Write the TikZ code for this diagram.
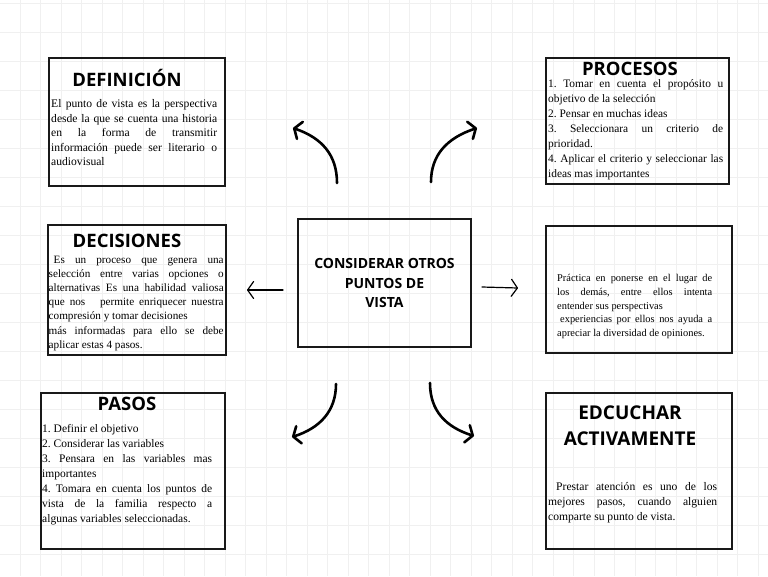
\documentclass[tikz,border=0pt]{standalone}
\usepackage{fontspec}
\setmainfont{Liberation Serif}
\newfontfamily\titlefont{Open Sans}
\usetikzlibrary{arrows.meta}
\setlength\parindent{0pt}
\frenchspacing
\newlength\bw
\newcommand\JL[1]{\makebox[\bw][s]{\spaceskip=0pt\xspaceskip=0pt #1}\\}
\newcommand\FL[1]{#1\\}
\newcommand\BW[1]{\setlength\bw{#1}\spaceskip=0pt\xspaceskip=0pt}
\begin{document}
\begin{tikzpicture}[x=1pt,y=-1pt,
  box/.style={draw=black!90, line width=1.6pt, inner sep=0pt, anchor=north west},
  title/.style={font=\titlefont\bfseries\fontsize{18.5}{22}\selectfont, inner sep=0pt, anchor=base},
  body/.style={anchor=north west, inner sep=0pt, align=left, text width=#1},
  gridline/.style={draw=black!6, line width=0.6pt},
  arr/.style={line width=2.6pt, line cap=round, -{Straight Barb[length=6pt,width=18pt,line width=2.6pt,round]}},
  thinarr/.style={line width=1.2pt, line cap=round, -{Straight Barb[length=6pt,width=17pt,line width=1.2pt,round]}},
]
\useasboundingbox (0,0) rectangle (768,576);
\fill[white] (0,0) rectangle (768,576);
\foreach \i in {0,...,37} \draw[gridline] ({20+\i*20.5},0) -- ({20+\i*20.5},576);
\foreach \j in {0,...,19} \draw[gridline] (0,{3+\j*29}) -- (768,{3+\j*29});

% boxes
\node[box, minimum width=176pt, minimum height=128pt] (defbox) at (48,57) {};
\node[box, minimum width=183pt, minimum height=126pt] (probox) at (545,57) {};
\node[box, minimum width=178pt, minimum height=130pt] (decbox) at (47,224) {};
\node[box, minimum width=186pt, minimum height=127pt] (empbox) at (545,225) {};
\node[box, minimum width=184pt, minimum height=156pt] (pasbox) at (40,392) {};
\node[box, minimum width=186pt, minimum height=156pt] (escbox) at (545,392) {};

% center
\node[draw=black!90, line width=1.6pt, minimum width=173pt, minimum height=128pt, align=center,
  font=\titlefont\bfseries\fontsize{14}{19.3}\selectfont] (main) at (384.5,283)
  {CONSIDERAR OTROS\\PUNTOS DE\\VISTA};

% titles
\node[title] (tdef) at (127,86) {DEFINICIÓN};
\node[title] (tpro) at (630,75) {PROCESOS};
\node[title] (tdec) at (127,247.7) {DECISIONES};
\node[title] (tpas) at (127,410) {PASOS};
\node[title, anchor=center, align=center, font=\titlefont\bfseries\fontsize{19}{26}\selectfont] (tesc) at (630,426) {EDCUCHAR\\ACTIVAMENTE};

% bodies
\node[body=166pt, font=\fontsize{11.6}{14.6}\selectfont] (bdef) at (51,99.3) {\BW{166pt}%
\JL{El punto de vista es la perspectiva}
\JL{desde la que se cuenta una historia}
\JL{en la forma de transmitir}
\JL{información puede ser literario o}
audiovisual};

\node[body=175pt, font=\fontsize{11.4}{15}\selectfont] (bpro) at (548,79) {\BW{175pt}%
\JL{1. Tomar en cuenta el propósito u}
\FL{objetivo de la selección}
\FL{2. Pensar en muchas ideas}
\JL{3. Seleccionara un criterio de}
\FL{prioridad.}
\JL{4. Aplicar el criterio y seleccionar las}
ideas mas importantes};

\node[body=175pt, font=\fontsize{11.2}{14.1}\selectfont] (bdec) at (48.5,256) {\BW{175pt}%
\JL{\hspace*{5pt}Es un proceso que genera una}
\JL{selección entre varias opciones o}
\JL{alternativas Es una habilidad valiosa}
\JL{que nos\ \ \ permite enriquecer nuestra}
\FL{compresión y tomar decisiones}
\JL{más informadas para ello se debe}
aplicar estas 4 pasos.};

\node[body=155pt, font=\fontsize{10.4}{13.6}\selectfont] (bemp) at (557,274.5) {\BW{155pt}%
\JL{Práctica en ponerse en el lugar de}
\JL{los demás, entre ellos intenta}
\FL{entender sus perspectivas}
\JL{\hspace*{3pt}experiencias por ellos nos ayuda a}
apreciar la diversidad de opiniones.};

\node[body=170pt, font=\fontsize{11.5}{15}\selectfont] (bpas) at (42,423.7) {\BW{170pt}%
\FL{1. Definir el objetivo}
\FL{2. Considerar las variables}
\JL{3. Pensara en las variables mas}
\FL{importantes}
\JL{4. Tomara en cuenta los puntos de}
\JL{vista de la familia respecto a}
algunas variables seleccionadas.};

\node[body=169pt, font=\fontsize{11.6}{15}\selectfont] (besc) at (548,482) {\BW{169pt}%
\JL{\hspace*{8pt}Prestar atención es uno de los}
\JL{mejores pasos, cuando alguien}
comparte su punto de vista.};

% arrow ends
\coordinate (a1s) at (337,183); \coordinate (a1e) at (293,128);
\coordinate (a2s) at (431,182); \coordinate (a2e) at (477,128);
\coordinate (a3s) at (336,384); \coordinate (a3e) at (292,437);
\coordinate (a4s) at (430,383); \coordinate (a4e) at (474,436);
\coordinate (a5s) at (283,290); \coordinate (a5e) at (247,290);
\coordinate (a6s) at (482,287); \coordinate (a6e) at (518,288);

\draw[arr] (a1s) .. controls (337,155) and (322,138) .. (a1e);
\draw[arr] (a2s) .. controls (431,155) and (447,138) .. (a2e);
\draw[arr] (a3s) .. controls (336,411) and (320,428) .. (a3e);
\draw[arr] (a4s) .. controls (430,411) and (446,427) .. (a4e);
\draw[thinarr] (a5s) -- (a5e);
\draw[thinarr] (a6s) -- (a6e);
\end{tikzpicture}
\end{document}
